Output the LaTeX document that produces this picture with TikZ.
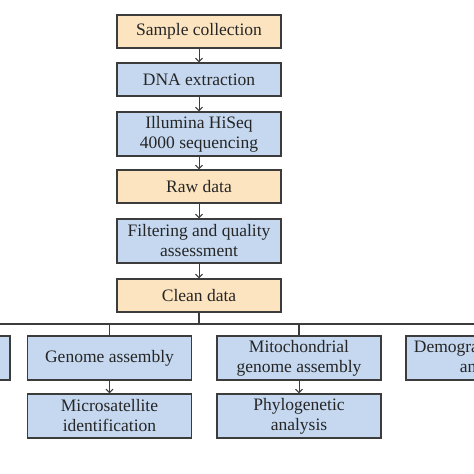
\documentclass[tikz,border=0pt]{standalone}
\usepackage{fontspec}
\setmainfont{Liberation Serif}
\usetikzlibrary{arrows.meta}
\definecolor{boxor}{RGB}{252,228,192}
\definecolor{boxbl}{RGB}{197,216,240}
\definecolor{edge}{RGB}{60,60,60}
\begin{document}
\begin{tikzpicture}[x=1pt,y=-1pt,
  base/.style={draw=edge,line width=1.3pt,minimum width=164pt,inner sep=0pt,align=center,
    font=\fontsize{17.5}{20}\selectfont,text=black!85},
  orbox/.style={base,fill=boxor,minimum height=33pt},
  blbox/.style={base,fill=boxbl,minimum height=33pt},
  blbig/.style={base,fill=boxbl,minimum height=44pt},
  arr/.style={draw=edge,line width=1pt,-{Straight Barb[length=3.5pt,width=7pt]}},
  ln/.style={draw=edge,line width=1.3pt}]
\useasboundingbox (0,0) rectangle (474,474);
\clip (0,0) rectangle (474,474);
\fill[white] (0,0) rectangle (474,474);
\node[orbox] (sample) at (199,31.5) {Sample collection};
\node[blbox] (dna) at (199,79.5) {DNA extraction};
\node[blbig] (ill) at (199,134) {Illumina HiSeq\\4000 sequencing};
\node[orbox] (raw) at (199,186.5) {Raw data};
\node[blbig] (filt) at (199,241) {Filtering and quality\\assessment};
\node[orbox] (clean) at (199,295.5) {Clean data};
\node[blbig] (left) at (-72,358) {};
\node[blbig] (genome) at (109.5,358) {Genome assembly};
\node[blbig] (mito) at (299,358) {Mitochondrial\\genome assembly};
\node[blbig] (demo) at (488,358) {Demographic history\\analysis};
\node[blbig] (micro) at (109.5,416) {Microsatellite\\identification};
\node[blbig] (phylo) at (299,416) {Phylogenetic\\analysis};
\coordinate (hl) at (-300,324);
\coordinate (hr) at (800,324);
\draw[arr] (sample) -- (dna);
\draw[arr] (dna) -- (ill);
\draw[arr] (ill) -- (raw);
\draw[arr] (raw) -- (filt);
\draw[arr] (filt) -- (clean);
\draw[ln] (hl) -- (hr);
\draw[ln] (clean.south) -- (clean.south |- hl);
\draw[ln] (left.north |- hl) -- (left.north);
\draw[ln] (genome.north |- hl) -- (genome.north);
\draw[ln] (mito.north |- hl) -- (mito.north);
\draw[ln] (demo.north |- hl) -- (demo.north);
\draw[arr] (genome) -- (micro);
\draw[arr] (mito) -- (phylo);
\end{tikzpicture}
\end{document}
